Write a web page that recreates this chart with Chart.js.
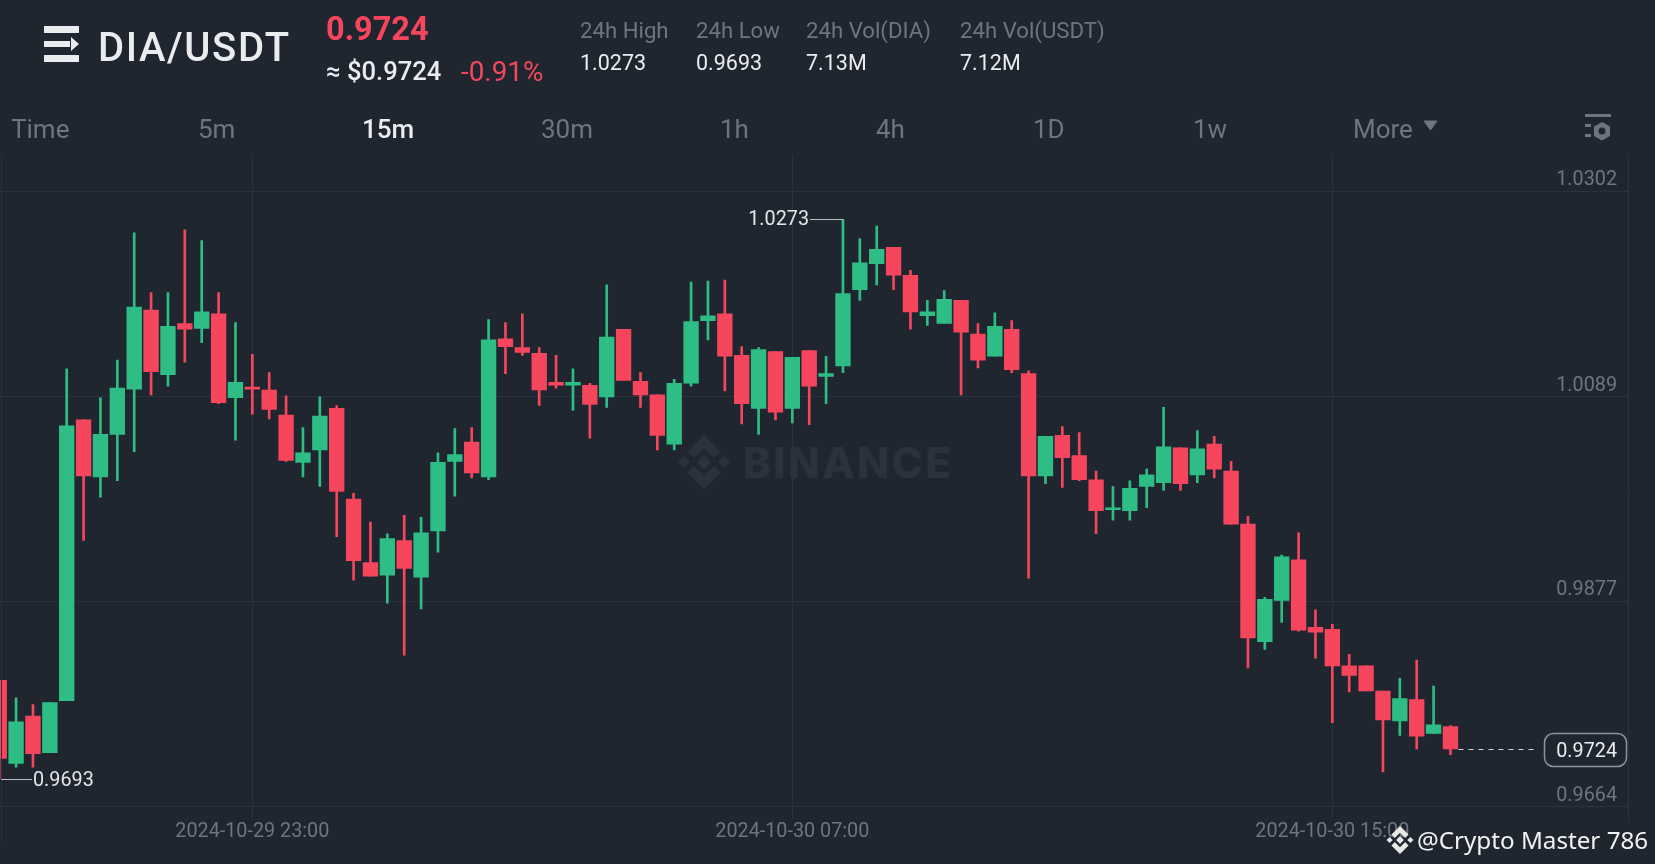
<!DOCTYPE html>
<html>
<head>
<meta charset="utf-8">
<title>DIA/USDT</title>
<script src="https://cdn.jsdelivr.net/npm/chart.js@4"></script>
<style>
html,body{margin:0;padding:0;background:#1f2630;width:1655px;height:864px;overflow:hidden;font-family:Roboto,sans-serif;}
#wrap{position:relative;width:1655px;height:864px;}
#chart{position:absolute;left:0;top:0;z-index:2;}
.t{position:absolute;white-space:nowrap;line-height:1;transform:translateY(-50%);z-index:3;}
.grey{color:#6d7582;}
.white{color:#eaecef;}
.red{color:#f6465d;}
.tab{font-size:26px;top:129px;color:#6d7582;}
.lab{font-size:22.2px;top:30px;color:#6d7582;}
.val{font-size:21.5px;top:63px;color:#eaecef;}
svg{position:absolute;}
</style>
</head>
<body>
<div id="wrap">

<!-- header -->
<svg style="left:44px;top:26px;z-index:3" width="36" height="36" viewBox="0 0 36 36">
  <rect x="0" y="0" width="35" height="7" fill="#eaecef"/>
  <rect x="0" y="15" width="26" height="6" fill="#eaecef"/>
  <polygon points="27,11 35,18 27,25" fill="#eaecef"/>
  <rect x="0" y="29" width="35" height="7" fill="#eaecef"/>
</svg>
<span class="t white" style="left:98px;top:48px;font-size:40px;font-weight:500;letter-spacing:1.6px">DIA/USDT</span>
<span class="t red" style="left:326px;top:29px;font-size:32.5px;font-weight:700">0.9724</span>
<span class="t white" style="left:326px;top:72px;font-size:25.6px;font-weight:500">≈ $0.9724</span>
<span class="t red" style="left:461px;top:72px;font-size:27.8px">-0.91%</span>

<span class="t lab" style="left:580px">24h High</span>
<span class="t val" style="left:580px">1.0273</span>
<span class="t lab" style="left:696px">24h Low</span>
<span class="t val" style="left:696px">0.9693</span>
<span class="t lab" style="left:806px">24h Vol(DIA)</span>
<span class="t val" style="left:806px">7.13M</span>
<span class="t lab" style="left:960px">24h Vol(USDT)</span>
<span class="t val" style="left:960px">7.12M</span>

<!-- interval tabs -->
<span class="t tab" style="left:11px">Time</span>
<span class="t tab" style="left:198px">5m</span>
<span class="t tab" style="left:362px;color:#eaecef;font-weight:500">15m</span>
<span class="t tab" style="left:541px">30m</span>
<span class="t tab" style="left:720px">1h</span>
<span class="t tab" style="left:876px">4h</span>
<span class="t tab" style="left:1033px">1D</span>
<span class="t tab" style="left:1193px">1w</span>
<span class="t tab" style="left:1353px">More</span>
<svg style="left:1423px;top:120px;z-index:3" width="15" height="11" viewBox="0 0 15 11">
  <polygon points="1,1 14,1 7.5,10" fill="#6d7582" stroke="#6d7582" stroke-linejoin="round"/>
</svg>
<svg style="left:1585px;top:114px;z-index:3" width="26" height="28" viewBox="0 0 26 28">
  <rect x="0" y="0" width="26" height="3" fill="#6d7582"/>
  <rect x="0" y="10" width="6" height="3" fill="#6d7582"/>
  <rect x="0" y="20" width="6" height="3" fill="#6d7582"/>
  <path d="M17 8 L25 12.5 L25 22 L17 26.5 L9 22 L9 12.5 Z M17 13.5 A3.5 3.5 0 1 0 17 20.5 A3.5 3.5 0 1 0 17 13.5 Z" fill="#6d7582" fill-rule="evenodd"/>
</svg>

<!-- watermark, under the chart -->
<svg style="left:677px;top:435px;z-index:1" width="54" height="54" viewBox="-27 -27 54 54">
  <g fill="#2c313c">
    <polygon points="0,-7.5 7.5,0 0,7.5 -7.5,0"/>
    <polygon points="-20,-6 -14,0 -20,6 -26,0"/>
    <polygon points="20,-6 26,0 20,6 14,0"/>
    <polygon points="0,-27 16.5,-10.5 10,-4 0,-14 -10,-4 -16.5,-10.5"/>
    <polygon points="0,27 16.5,10.5 10,4 0,14 -10,4 -16.5,10.5"/>
  </g>
</svg>
<span class="t" style="left:743px;top:463px;font-size:42px;font-weight:800;letter-spacing:2.4px;color:#2c313c;z-index:1;font-family:Inter,Roboto,sans-serif">BINANCE</span>

<canvas id="chart" width="1655" height="864"></canvas>

<!-- credit over the chart -->
<svg style="left:1386px;top:826px;z-index:4" width="28" height="28" viewBox="-27 -27 54 54">
  <g fill="#e8e8e8">
    <polygon points="0,-7.5 7.5,0 0,7.5 -7.5,0"/>
    <polygon points="-20,-6 -14,0 -20,6 -26,0"/>
    <polygon points="20,-6 26,0 20,6 14,0"/>
    <polygon points="0,-27 16.5,-10.5 10,-4 0,-14 -10,-4 -16.5,-10.5"/>
    <polygon points="0,27 16.5,10.5 10,4 0,14 -10,4 -16.5,10.5"/>
  </g>
</svg>
<span class="t" style="left:1417px;top:840px;font-size:24.2px;color:#f2f2f2;z-index:4;font-family:'Noto Sans',sans-serif">@Crypto Master 786</span>
</div>

<script>
// 15m candles, oldest first
const opens = [
0.9795,0.9709,0.9758,0.9720,0.9774,1.0065,1.0006,1.0050,1.0097,1.0179,
1.0112,1.0165,1.0160,1.0175,1.0088,1.0099,1.0096,1.0070,1.0021,1.0034,
1.0077,0.9983,0.9917,0.9904,0.9940,0.9902,0.9950,1.0022,1.0042,1.0006,
1.0149,1.0140,1.0134,1.0104,1.0101,1.0101,1.0089,1.0159,1.0105,1.0091,
1.0040,1.0103,1.0168,1.0175,1.0132,1.0077,1.0136,1.0077,1.0137,1.0110,
1.0121,1.0200,1.0227,1.0244,1.0215,1.0173,1.0165,1.0189,1.0154,1.0131,
1.0159,1.0113,1.0007,1.0049,1.0028,1.0003,0.9972,0.9971,0.9996,1.0000,
1.0036,1.0008,1.0040,1.0012,0.9957,0.9835,0.9878,0.9920,0.9850,0.9848,
0.9810,0.9810,0.9784,0.9753,0.9775,0.9740,0.9747];
const closes = [
0.9714,0.9752,0.9719,0.9772,1.0059,1.0007,1.0050,1.0098,1.0182,1.0115,
1.0162,1.0159,1.0177,1.0083,1.0104,1.0097,1.0076,1.0023,1.0031,1.0069,
0.9991,0.9919,0.9903,0.9942,0.9911,0.9948,1.0021,1.0029,1.0010,1.0148,
1.0141,1.0135,1.0096,1.0101,1.0104,1.0081,1.0151,1.0106,1.0091,1.0049,
1.0103,1.0167,1.0173,1.0131,1.0082,1.0138,1.0073,1.0130,1.0100,1.0113,
1.0196,1.0228,1.0242,1.0215,1.0177,1.0177,1.0190,1.0156,1.0127,1.0162,
1.0117,1.0007,1.0048,1.0026,1.0003,0.9971,0.9974,0.9994,1.0008,1.0037,
0.9999,1.0035,1.0014,0.9957,0.9839,0.9879,0.9923,0.9847,0.9845,0.9810,
0.9800,0.9784,0.9754,0.9776,0.9737,0.9749,0.9724];
const highs = [
0.9795,0.9777,0.9770,0.9772,1.0118,1.0065,1.0088,1.0127,1.0259,1.0197,
1.0197,1.0262,1.0251,1.0197,1.0166,1.0133,1.0114,1.0090,1.0057,1.0089,
1.0080,0.9989,0.9959,0.9947,0.9966,0.9964,1.0031,1.0056,1.0057,1.0169,
1.0166,1.0175,1.0140,1.0132,1.0118,1.0103,1.0205,1.0159,1.0114,1.0091,
1.0107,1.0208,1.0209,1.0210,1.0141,1.0140,1.0136,1.0130,1.0137,1.0131,
1.0273,1.0253,1.0266,1.0244,1.0220,1.0189,1.0199,1.0189,1.0165,1.0176,
1.0168,1.0116,1.0048,1.0058,1.0052,1.0012,0.9996,1.0002,1.0014,1.0078,
1.0036,1.0054,1.0048,1.0022,0.9965,0.9881,0.9925,0.9948,0.9868,0.9853,
0.9822,0.9810,0.9784,0.9797,0.9816,0.9789,0.9748];
const lows = [
0.9693,0.9705,0.9705,0.9720,0.9774,0.9940,0.9985,1.0002,1.0032,1.0091,
1.0100,1.0125,1.0145,1.0082,1.0044,1.0071,1.0066,1.0022,1.0006,0.9996,
0.9944,0.9899,0.9903,0.9875,0.9821,0.9869,0.9928,0.9986,1.0005,1.0003,
1.0113,1.0132,1.0080,1.0098,1.0075,1.0046,1.0078,1.0106,1.0078,1.0034,
1.0034,1.0100,1.0148,1.0095,1.0061,1.0050,1.0065,1.0062,1.0060,1.0082,
1.0114,1.0189,1.0205,1.0200,1.0159,1.0163,1.0165,1.0091,1.0119,1.0131,
1.0114,0.9901,0.9999,0.9995,1.0002,0.9947,0.9961,0.9961,0.9974,0.9992,
0.9992,1.0000,1.0005,0.9957,0.9808,0.9827,0.9855,0.9846,0.9818,0.9751,
0.9783,0.9784,0.9700,0.9738,0.9724,0.9740,0.9718];

const priceTicks = [1.0302,1.0089,0.9877,0.9664];
const timeTickIndex = [15,47,79];
const timeLabels = ["2024-10-29 23:00","2024-10-30 07:00","2024-10-30 15:00"];

const dayHigh = 1.0273;
const dayLow = 0.9693;
const lastPrice = 0.9724;

const UP = "#2ebd85";
const DOWN = "#f6465d";
const GRID = "#2c323d";
const AXIS_TEXT = "#6d7582";
const FONT = "19.8px Roboto";

const colors = opens.map((o,i)=> closes[i]>=o ? UP : DOWN);

// borders, high/low labels and the last price tag
const extras = {
  id:"extras",
  afterDatasetsDraw(chart){
    const {ctx,scales:{x,y},chartArea:a} = chart;
    ctx.save();

    // frame
    ctx.strokeStyle = GRID;
    ctx.lineWidth = 1;
    ctx.beginPath();
    ctx.moveTo(1.5,154); ctx.lineTo(1.5,842);
    ctx.moveTo(a.right-0.5,154); ctx.lineTo(a.right-0.5,823);
    ctx.stroke();

    ctx.font = FONT;
    ctx.textBaseline = "middle";
    ctx.fillStyle = "#e4e6e9";
    ctx.strokeStyle = "#b9bcc1";

    // 24h high
    const hx = x.getPixelForValue(highs.indexOf(dayHigh));
    const hy = Math.round(y.getPixelForValue(dayHigh))+0.5;
    ctx.beginPath();
    ctx.moveTo(810,hy); ctx.lineTo(hx,hy);
    ctx.stroke();
    ctx.textAlign = "right";
    ctx.fillText(dayHigh.toFixed(4),809,hy+1);

    // 24h low
    const ly = Math.round(y.getPixelForValue(dayLow))+0.5;
    ctx.beginPath();
    ctx.moveTo(1,ly); ctx.lineTo(32,ly);
    ctx.stroke();
    ctx.textAlign = "left";
    ctx.fillText(dayLow.toFixed(4),33,ly+2);

    // last price
    const py = Math.round(y.getPixelForValue(lastPrice))+0.5;
    ctx.strokeStyle = "#d5d7da";
    ctx.setLineDash([5,5]);
    ctx.beginPath();
    ctx.moveTo(x.getPixelForValue(opens.length-1)+8,py);
    ctx.lineTo(1534,py);
    ctx.stroke();
    ctx.setLineDash([]);

    ctx.strokeStyle = "#8f939a";
    ctx.lineWidth = 1.5;
    ctx.beginPath();
    ctx.roundRect(1544.5,py-16,82,33,9);
    ctx.stroke();
    ctx.fillStyle = "#eaecef";
    ctx.textAlign = "right";
    ctx.fillText(lastPrice.toFixed(4),1617,py+3);

    ctx.restore();
  }
};

new Chart(document.getElementById("chart"),{
  type:"bar",
  data:{
    datasets:[
      {
        label:"wick",
        grouped:false,
        barThickness:2,
        backgroundColor:colors,
        data:lows.map((l,i)=>({x:i,y:[l,highs[i]]}))
      },
      {
        label:"body",
        grouped:false,
        barThickness:14.7,
        backgroundColor:colors,
        data:opens.map((o,i)=>({x:i,y:[o,closes[i]]}))
      }
    ]
  },
  options:{
    responsive:false,
    animation:false,
    devicePixelRatio:1,
    layout:{padding:{top:155,right:26,bottom:0,left:0}},
    plugins:{legend:{display:false},tooltip:{enabled:false}},
    scales:{
      x:{
        type:"linear",
        offset:false,
        min:0.047,
        max:96.58,
        afterFit(s){s.height=57.3;},
        afterBuildTicks(s){s.ticks=timeTickIndex.map(v=>({value:v}));},
        grid:{offset:false,color:GRID,tickLength:11,tickColor:GRID},
        border:{display:false},
        ticks:{
          autoSkip:false,
          maxRotation:0,
          padding:2.5,
          color:AXIS_TEXT,
          font:{family:"Roboto",size:19.8},
          callback:v=>timeLabels[timeTickIndex.indexOf(v)]
        }
      },
      y:{
        position:"right",
        min:0.9664,
        max:1.03397,
        afterFit(s){s.width=0;},
        afterBuildTicks(s){s.ticks=priceTicks.map(v=>({value:v}));},
        grid:{color:GRID,drawTicks:false},
        border:{display:false},
        ticks:{
          mirror:true,
          padding:-12,
          labelOffset:-11,
          color:AXIS_TEXT,
          font:{family:"Roboto",size:19.8},
          callback:v=>v.toFixed(4)
        }
      }
    }
  },
  plugins:[extras]
});
</script>
</body>
</html>
